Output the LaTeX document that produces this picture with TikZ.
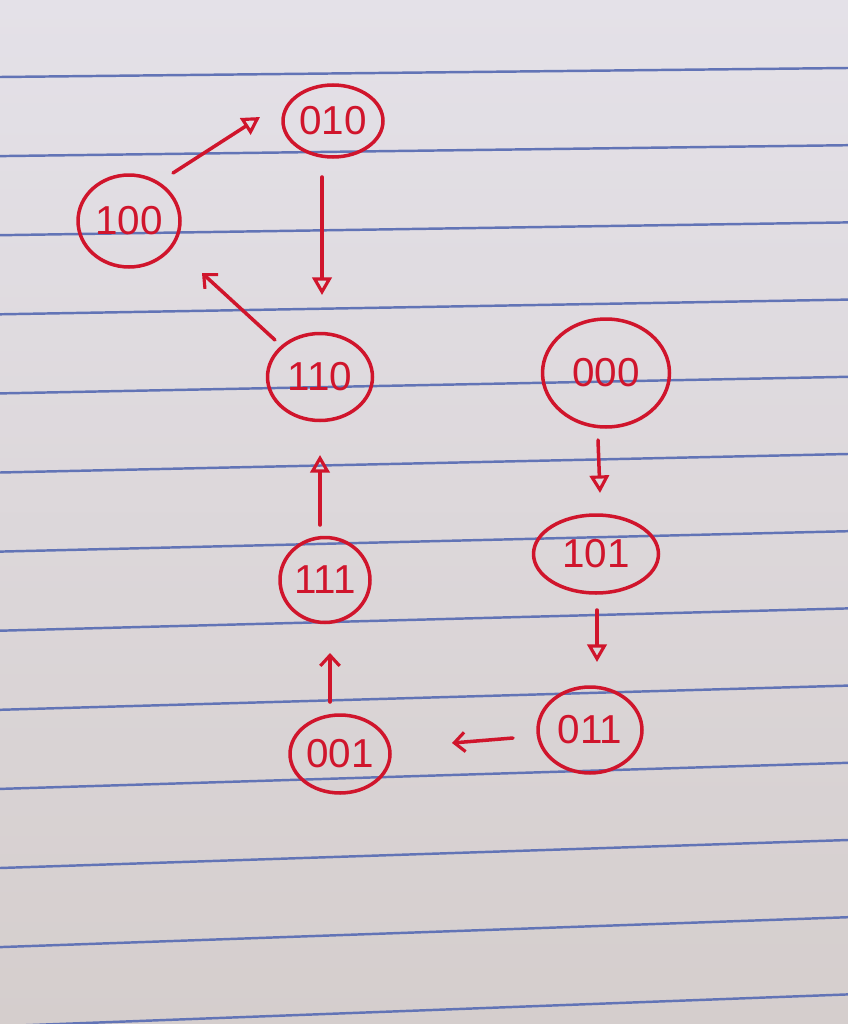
\documentclass[tikz,border=0pt]{standalone}
\usepackage{fontspec}
\setmainfont{Liberation Sans}
\usetikzlibrary{shapes.geometric,arrows.meta,calc}
\definecolor{ink}{HTML}{D0152C}
\definecolor{rulecol}{HTML}{6274B6}
\definecolor{papertop}{HTML}{E4E1E8}
\definecolor{paperbot}{HTML}{D5CECD}
\begin{document}
\begin{tikzpicture}[x=0.02cm,y=-0.02cm,
  state/.style={ellipse, draw=ink, line width=2pt, text=ink, inner sep=0pt,
    font=\fontsize{23}{23}\selectfont},
  arr/.style={draw=ink, line width=2pt, line cap=round,
    -{Triangle[open,length=10pt,width=11pt,line width=1.8pt]}},
  barb/.style={draw=ink, line width=2pt, line cap=round,
    -{Straight Barb[length=6pt,width=11pt,line width=1.8pt]}},
  paperline/.style={draw=rulecol, line width=1.4pt}]
\shade[top color=papertop,bottom color=paperbot] (0,0) rectangle (848,1024);
\useasboundingbox (0,0) rectangle (848,1024);
\foreach \k in {0,...,12} \draw[paperline] (0,{77+79.1*\k}) -- (848,{68+77.2*\k});

\node[state, minimum width=2.00cm, minimum height=1.44cm] (n010) at (333,121) {010};
\node[state, minimum width=2.04cm, minimum height=1.84cm] (n100) at (129,221) {100};
\node[state, minimum width=2.10cm, minimum height=1.74cm] (n110) at (320,377) {110};
\node[state, minimum width=2.54cm, minimum height=2.16cm] (n000) at (606,373) {000};
\node[state, minimum width=1.80cm, minimum height=1.70cm] (n111) at (325,580) {111};
\node[state, minimum width=2.50cm, minimum height=1.56cm] (n101) at (596,554) {101};
\node[state, minimum width=2.08cm, minimum height=1.72cm] (n011) at (590,730) {011};
\node[state, minimum width=2.00cm, minimum height=1.56cm] (n001) at (340,754) {001};

\draw[arr]  ($(n100)+(44,-48)$) -- ($(n010)+(-73,-4)$);
\draw[arr]  ($(n010)+(-11,56)$) -- ($(n110)+(2,-82)$);
\draw[barb] ($(n110)+(-45,-37)$) -- ($(n100)+(73,52)$);
\draw[arr]  ($(n111)+(-5,-55)$) -- ($(n110)+(0,78)$);
\draw[barb] ($(n001)+(-10,-52)$) -- ($(n111)+(5,73)$);
\draw[arr]  ($(n000)+(-8,67)$) -- ($(n101)+(4,-61)$);
\draw[arr]  ($(n101)+(1,56)$) -- ($(n011)+(7,-68)$);
\draw[barb] ($(n011)+(-77,8)$) -- ($(n001)+(112,-11)$);
\end{tikzpicture}
\end{document}
